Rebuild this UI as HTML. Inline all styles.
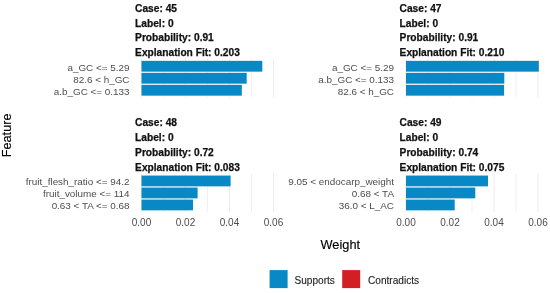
<!DOCTYPE html>
<html><head><meta charset="utf-8"><style>
html,body{margin:0;padding:0;background:#fff;width:550px;height:293px;overflow:hidden}
svg{display:block}
text{font-family:"Liberation Sans",Arial,sans-serif}
.st{font-size:10.2px;font-weight:bold;fill:#111;stroke:#111;stroke-width:0.25px}
.yl{font-size:9.9px;fill:#4d4d4d;text-anchor:end}
.xt{font-size:10px;fill:#4d4d4d;text-anchor:middle}
.at{font-size:12.75px;fill:#000;stroke:#000;stroke-width:0.15px}
.lg{font-size:10.1px;fill:#1a1a1a;stroke:#1a1a1a;stroke-width:0.1px}
</style></head><body>
<svg width="550" height="293" viewBox="0 0 550 293">
<rect width="550" height="293" fill="#fff"/>
<line x1="141.50" y1="58.50" x2="141.50" y2="97.30" stroke="#ececec" stroke-width="1"/>
<line x1="163.50" y1="58.50" x2="163.50" y2="97.30" stroke="#eeeeee" stroke-width="0.8"/>
<line x1="185.50" y1="58.50" x2="185.50" y2="97.30" stroke="#ececec" stroke-width="1"/>
<line x1="207.50" y1="58.50" x2="207.50" y2="97.30" stroke="#eeeeee" stroke-width="0.8"/>
<line x1="229.50" y1="58.50" x2="229.50" y2="97.30" stroke="#ececec" stroke-width="1"/>
<line x1="251.50" y1="58.50" x2="251.50" y2="97.30" stroke="#eeeeee" stroke-width="0.8"/>
<line x1="273.50" y1="58.50" x2="273.50" y2="97.30" stroke="#ececec" stroke-width="1"/>
<text x="135.10" y="11.50" class="st">Case: 45</text>
<text x="135.10" y="26.50" class="st">Label: 0</text>
<text x="135.10" y="41.20" class="st">Probability: 0.91</text>
<text x="135.10" y="55.90" class="st">Explanation Fit: 0.203</text>
<rect x="141.50" y="60.85" width="120.80" height="10.80" fill="#0888c4"/>
<text x="129.50" y="70.55" class="yl">a_GC &lt;= 5.29</text>
<rect x="141.50" y="72.85" width="105.20" height="10.80" fill="#0888c4"/>
<text x="129.50" y="82.55" class="yl">82.6 &lt; h_GC</text>
<rect x="141.50" y="84.85" width="100.30" height="10.80" fill="#0888c4"/>
<text x="129.50" y="94.55" class="yl">a.b_GC &lt;= 0.133</text>
<line x1="406.00" y1="58.50" x2="406.00" y2="97.30" stroke="#ececec" stroke-width="1"/>
<line x1="428.00" y1="58.50" x2="428.00" y2="97.30" stroke="#eeeeee" stroke-width="0.8"/>
<line x1="450.00" y1="58.50" x2="450.00" y2="97.30" stroke="#ececec" stroke-width="1"/>
<line x1="472.00" y1="58.50" x2="472.00" y2="97.30" stroke="#eeeeee" stroke-width="0.8"/>
<line x1="494.00" y1="58.50" x2="494.00" y2="97.30" stroke="#ececec" stroke-width="1"/>
<line x1="516.00" y1="58.50" x2="516.00" y2="97.30" stroke="#eeeeee" stroke-width="0.8"/>
<line x1="538.00" y1="58.50" x2="538.00" y2="97.30" stroke="#ececec" stroke-width="1"/>
<text x="399.60" y="11.50" class="st">Case: 47</text>
<text x="399.60" y="26.50" class="st">Label: 0</text>
<text x="399.60" y="41.20" class="st">Probability: 0.91</text>
<text x="399.60" y="55.90" class="st">Explanation Fit: 0.210</text>
<rect x="406.00" y="60.85" width="132.80" height="10.80" fill="#0888c4"/>
<text x="394.00" y="70.55" class="yl">a_GC &lt;= 5.29</text>
<rect x="406.00" y="72.85" width="98.30" height="10.80" fill="#0888c4"/>
<text x="394.00" y="82.55" class="yl">a.b_GC &lt;= 0.133</text>
<rect x="406.00" y="84.85" width="98.10" height="10.80" fill="#0888c4"/>
<text x="394.00" y="94.55" class="yl">82.6 &lt; h_GC</text>
<line x1="141.50" y1="173.20" x2="141.50" y2="212.00" stroke="#ececec" stroke-width="1"/>
<line x1="163.50" y1="173.20" x2="163.50" y2="212.00" stroke="#eeeeee" stroke-width="0.8"/>
<line x1="185.50" y1="173.20" x2="185.50" y2="212.00" stroke="#ececec" stroke-width="1"/>
<line x1="207.50" y1="173.20" x2="207.50" y2="212.00" stroke="#eeeeee" stroke-width="0.8"/>
<line x1="229.50" y1="173.20" x2="229.50" y2="212.00" stroke="#ececec" stroke-width="1"/>
<line x1="251.50" y1="173.20" x2="251.50" y2="212.00" stroke="#eeeeee" stroke-width="0.8"/>
<line x1="273.50" y1="173.20" x2="273.50" y2="212.00" stroke="#ececec" stroke-width="1"/>
<text x="135.10" y="126.20" class="st">Case: 48</text>
<text x="135.10" y="141.20" class="st">Label: 0</text>
<text x="135.10" y="155.90" class="st">Probability: 0.72</text>
<text x="135.10" y="170.60" class="st">Explanation Fit: 0.083</text>
<rect x="141.50" y="175.55" width="89.10" height="10.80" fill="#0888c4"/>
<text x="129.50" y="185.25" class="yl">fruit_flesh_ratio &lt;= 94.2</text>
<rect x="141.50" y="187.55" width="56.10" height="10.80" fill="#0888c4"/>
<text x="129.50" y="197.25" class="yl">fruit_volume &lt;= 114</text>
<rect x="141.50" y="199.55" width="51.50" height="10.80" fill="#0888c4"/>
<text x="129.50" y="209.25" class="yl">0.63 &lt; TA &lt;= 0.68</text>
<line x1="406.00" y1="173.20" x2="406.00" y2="212.00" stroke="#ececec" stroke-width="1"/>
<line x1="428.00" y1="173.20" x2="428.00" y2="212.00" stroke="#eeeeee" stroke-width="0.8"/>
<line x1="450.00" y1="173.20" x2="450.00" y2="212.00" stroke="#ececec" stroke-width="1"/>
<line x1="472.00" y1="173.20" x2="472.00" y2="212.00" stroke="#eeeeee" stroke-width="0.8"/>
<line x1="494.00" y1="173.20" x2="494.00" y2="212.00" stroke="#ececec" stroke-width="1"/>
<line x1="516.00" y1="173.20" x2="516.00" y2="212.00" stroke="#eeeeee" stroke-width="0.8"/>
<line x1="538.00" y1="173.20" x2="538.00" y2="212.00" stroke="#ececec" stroke-width="1"/>
<text x="399.60" y="126.20" class="st">Case: 49</text>
<text x="399.60" y="141.20" class="st">Label: 0</text>
<text x="399.60" y="155.90" class="st">Probability: 0.74</text>
<text x="399.60" y="170.60" class="st">Explanation Fit: 0.075</text>
<rect x="406.00" y="175.55" width="82.00" height="10.80" fill="#0888c4"/>
<text x="394.00" y="185.25" class="yl">9.05 &lt; endocarp_weight</text>
<rect x="406.00" y="187.55" width="69.30" height="10.80" fill="#0888c4"/>
<text x="394.00" y="197.25" class="yl">0.68 &lt; TA</text>
<rect x="406.00" y="199.55" width="48.70" height="10.80" fill="#0888c4"/>
<text x="394.00" y="209.25" class="yl">36.0 &lt; L_AC</text>
<text x="141.50" y="226.3" class="xt">0.00</text>
<text x="185.50" y="226.3" class="xt">0.02</text>
<text x="229.50" y="226.3" class="xt">0.04</text>
<text x="273.50" y="226.3" class="xt">0.06</text>
<text x="406.00" y="226.3" class="xt">0.00</text>
<text x="450.00" y="226.3" class="xt">0.02</text>
<text x="494.00" y="226.3" class="xt">0.04</text>
<text x="538.00" y="226.3" class="xt">0.06</text>
<text x="340.3" y="248.6" class="at" text-anchor="middle">Weight</text>
<text transform="translate(11.2,135.4) rotate(-90)" x="0" y="0" class="at" text-anchor="middle">Feature</text>
<rect x="269.6" y="270.1" width="18" height="18" fill="#0888c4"/>
<rect x="342.2" y="270.1" width="18" height="18" fill="#d11f24"/>
<text x="294.5" y="283.5" class="lg">Supports</text>
<text x="368" y="283.5" class="lg">Contradicts</text>
</svg>
</body></html>
